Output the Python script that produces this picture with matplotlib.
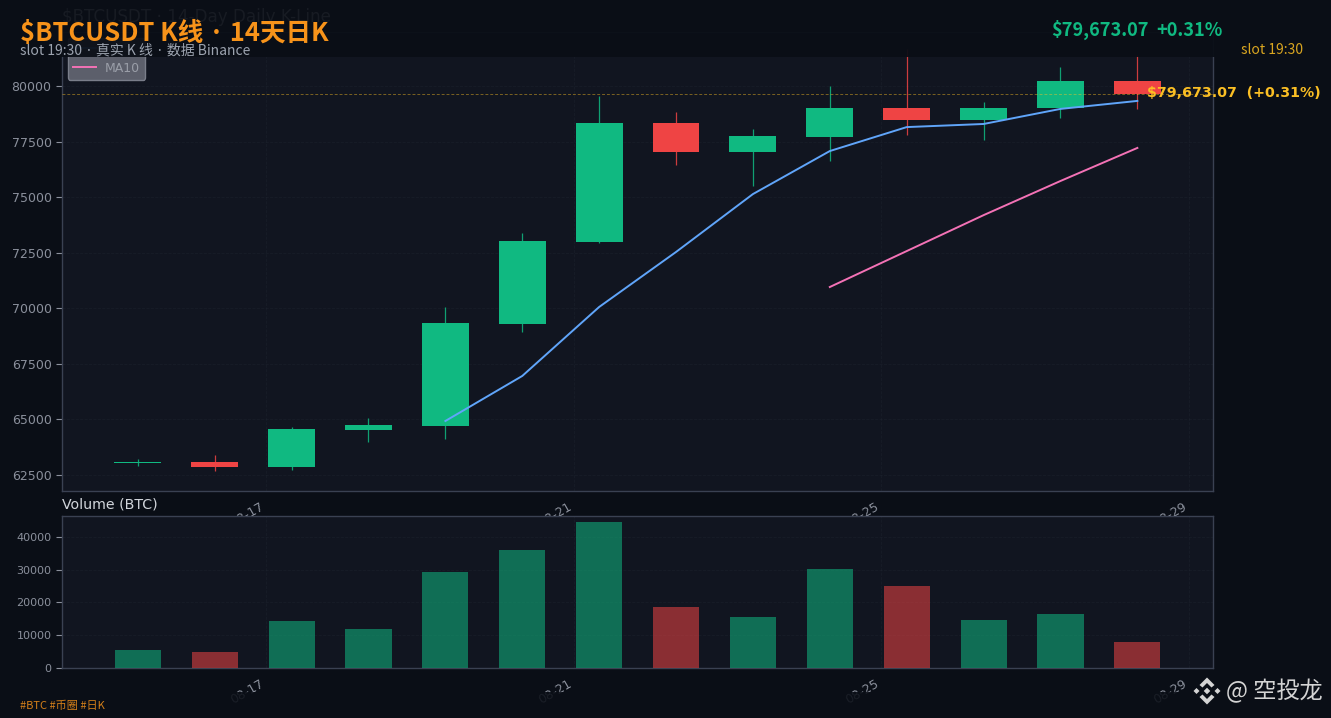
"""
BTCUSDT 14天日K线图：K线、MA5/MA10、成交量
"""

import matplotlib
matplotlib.use('Agg')
import matplotlib.pyplot as plt
import matplotlib.dates as mdates
from matplotlib.patches import Rectangle, Polygon
from matplotlib.transforms import Affine2D
from datetime import datetime, timedelta

plt.rcParams['font.family'] = ['DejaVu Sans', 'Noto Sans CJK JP']

days = ['08-15', '08-16', '08-17', '08-18', '08-19', '08-20', '08-21',
        '08-22', '08-23', '08-24', '08-25', '08-26', '08-27', '08-28']
opens = [63020, 63050, 62830, 64520, 64700, 69300, 72990, 78350, 77050, 77720, 79030, 78490, 79030, 80240]
closes = [63080, 62830, 64560, 64730, 69340, 73030, 78350, 77050, 77770, 79030, 78490, 79030, 80240, 79673.07]
highs = [63205, 63385, 64650, 65050, 70060, 73390, 79570, 78850, 78080, 80000, 81700, 79300, 80880, 81400]
lows = [62890, 62660, 62710, 63970, 64100, 68930, 72950, 76460, 75510, 76640, 77810, 77590, 78580, 78990]
volumes = [5500, 4900, 14300, 11900, 29200, 35900, 44500, 18500, 15500, 30200, 25000, 14600, 16400, 7900]
ma5 = [64920, 66950, 70060, 72540, 75150, 77090, 78170, 78310, 78990, 79350]
ma10 = [70960, 72580, 74200, 75740, 77230]
tick_days = ['08-17', '08-21', '08-25', '08-29']

BG = '#0a0e16'
PANEL = '#111520'
EDGE = '#3a4152'
GREEN = '#10b981'
RED = '#ef4444'
GOLD = '#fbbf24'
GRAY = '#8b909c'


def to_num(day, hour=0):
    """'08-17' 转成 matplotlib 日期数字"""
    return mdates.date2num(datetime.strptime('2025-' + day, '%Y-%m-%d') + timedelta(hours=hour))


x = [to_num(d, 8) for d in days]
ticks = [to_num(d) for d in tick_days]
colors = [GREEN if c >= o else RED for o, c in zip(opens, closes)]

W, H = 1331, 718
fig = plt.figure(figsize=(W / 100, H / 100), dpi=100, facecolor=BG)
ax1 = fig.add_axes([62 / W, 1 - 491 / H, 1151 / W, 459 / H], facecolor=PANEL)
ax2 = fig.add_axes([62 / W, 1 - 668 / H, 1151 / W, 152.5 / H], facecolor=PANEL, sharex=ax1)

# K线
ax1.vlines(x, lows, highs, colors=colors, linewidth=0.9, alpha=0.85, zorder=3)
ax1.bar(x, [abs(c - o) for o, c in zip(opens, closes)], bottom=[min(o, c) for o, c in zip(opens, closes)],
        width=0.61, color=colors, zorder=4)
ax1.plot(x[4:], ma5, color='#60a5fa', linewidth=1.4, label='MA5', zorder=5)
ax1.plot(x[9:], ma10, color='#f472b6', linewidth=1.4, label='MA10', zorder=5)
ax1.axhline(closes[-1], color=GOLD, linestyle=(0, (3, 2)), linewidth=0.7, alpha=0.45, zorder=6)
ax1.annotate(f'${closes[-1]:,.2f}  (+0.31%)', (x[-1], closes[-1]), xytext=(10, 1),
             textcoords='offset pixels', color=GOLD, fontsize=10.2, fontweight='bold',
             va='center', annotation_clip=False, zorder=7)
ax1.set_ylim(61763, 82457)
ax1.set_yticks([62500, 65000, 67500, 70000, 72500, 75000, 77500, 80000])
leg = ax1.legend(loc='upper left', fontsize=9, facecolor='#5c5f6b', edgecolor='#7a7e8a',
                 framealpha=1, labelcolor='#9a9ea8', borderaxespad=0.44, handlelength=1.9, handletextpad=0.7)
leg.set_zorder(8)

# 成交量
ax2.bar(x, volumes, width=0.6, color=colors, alpha=0.55, zorder=3)
ax2.set_ylim(0, 46500)
ax2.set_yticks([0, 10000, 20000, 30000, 40000])
ax2.set_title('Volume (BTC)', loc='left', color='#d1d5db', fontsize=10.2, pad=5)

ax1.set_xlim(ticks[0] - 2.653, ticks[0] + 12.317)
ax1.set_xticks(ticks)
ax1.set_xticklabels(tick_days)

for ax, size in ((ax1, 9), (ax2, 8)):
    ax.grid(True, color='#252a36', linestyle='--', linewidth=0.6, alpha=0.35, zorder=0)
    ax.set_axisbelow(True)
    ax.tick_params(axis='y', colors=GRAY, labelsize=size, length=4, width=0.8)
    ax.tick_params(axis='x', colors=GRAY, labelsize=9, length=0, labelbottom=True, pad=6.5)
    for label in ax.get_xticklabels():
        label.set_rotation(30)
        label.set_ha('right')
    for spine in ax.spines.values():
        spine.set_color(EDGE)
        spine.set_linewidth(1)

# 顶部标题栏盖住原标题，底部同样有一条深色带
fig.text(62 / W, 1 - 17 / H, '$BTCUSDT · 14-Day Daily K-Line', color='#e5e7eb', fontsize=12.1,
         va='center', zorder=5)
fig.add_artist(Rectangle((0, 1 - 57 / H), 1, 57 / H, transform=fig.transFigure,
                         facecolor=BG, edgecolor='none', alpha=0.94, zorder=6))
fig.add_artist(Rectangle((0, 0), 1, 26 / H, transform=fig.transFigure,
                         facecolor=BG, edgecolor='none', alpha=0.88, zorder=6))

cjk = ['Noto Sans CJK JP', 'DejaVu Sans']
fig.text(20 / W, 1 - 33 / H, '$BTCUSDT K线 · 14天日K', color='#f7931a', fontsize=18.4, fontweight='bold',
         family=cjk, va='center', zorder=7)
fig.text(20 / W, 1 - 50 / H, 'slot 19:30 · 真实 K 线 · 数据 Binance', color='#9ca3af', fontsize=10,
         family=cjk, va='center', zorder=7)
fig.text(1051 / W, 1 - 30 / H, '$79,673.07', color=GREEN, fontsize=13.1, fontweight='bold',
         family=cjk, va='center', zorder=7)
fig.text(1156 / W, 1 - 30 / H, '+0.31%', color=GREEN, fontsize=13.1, fontweight='bold',
         family=cjk, va='center', zorder=7)
fig.text(1241 / W, 1 - 50 / H, 'slot 19:30', color='#d9a520', fontsize=10,
         family=cjk, va='center', zorder=7)
fig.text(20 / W, 1 - 706 / H, '#BTC #币圈 #日K', color='#f7931a', fontsize=8, alpha=0.85,
         family=cjk, va='center', zorder=7)
fig.text(1226 / W, 1 - 691 / H, '@ 空投龙', color='#d4d4d4', fontsize=16.7,
         family=cjk, va='center', zorder=7)

# Binance 图标
logo = Affine2D().translate(1207, H - 691)
shapes = [
    [(0, 13.5), (7.5, 6), (4.5, 3.5), (0, 8), (-4.5, 3.5), (-7.5, 6)],
    [(0, -13.5), (7.5, -6), (4.5, -3.5), (0, -8), (-4.5, -3.5), (-7.5, -6)],
    [(0, -3.3), (3.3, 0), (0, 3.3), (-3.3, 0)],
    [(-13.5, 0), (-10.5, -3), (-7.5, 0), (-10.5, 3)],
    [(13.5, 0), (10.5, -3), (7.5, 0), (10.5, 3)],
]
for pts in shapes:
    fig.add_artist(Polygon(pts, closed=True, transform=logo, facecolor='#d4d4d4', edgecolor='none', zorder=7))

plt.savefig('out.png', dpi=100, facecolor=BG)
